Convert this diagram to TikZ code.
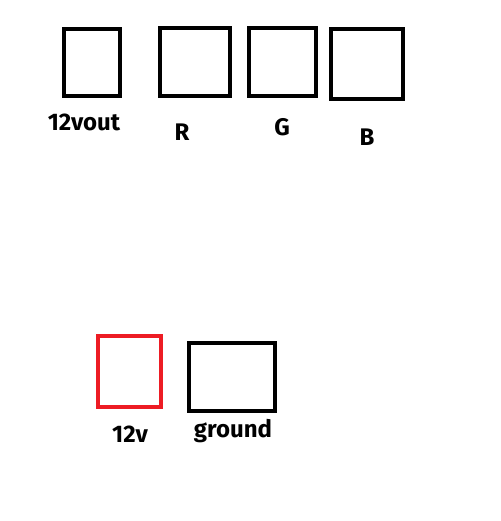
\documentclass[tikz,border=0pt]{standalone}
\usepackage{fontspec}
\setmainfont{Fira Sans}
\usetikzlibrary{positioning}
\definecolor{paintred}{HTML}{ED1C24}

\begin{document}
\begin{tikzpicture}[x=1pt, y=-1pt, -,
                    pin/.style = {draw, line width=4.5pt, inner sep=0pt},
                    lbl/.style = {font=\fontsize{24}{24}\selectfont\bfseries}]
\useasboundingbox (0,0) rectangle (500,521);
\node[pin, minimum width=56pt, minimum height=67pt] (vout) at (92,62.5) {};
\node[pin, minimum width=70pt, minimum height=68pt] (r) at (195,62) {};
\node[pin, minimum width=67pt, minimum height=68pt] (g) at (282.5,62) {};
\node[pin, minimum width=72pt, minimum height=70pt] (b) at (367,64) {};
\node[pin, draw=paintred, line width=4pt, minimum width=63pt, minimum height=71pt] (v12) at (129.5,371.5) {};
\node[pin, minimum width=86pt, minimum height=68pt] (gnd) at (232,377) {};
\node[lbl] (voutlabel) at (84,122) {12vout};
\node[lbl] (rlabel) at (182,132) {R};
\node[lbl] (glabel) at (282,127) {G};
\node[lbl] (blabel) at (367,137) {B};
\node[lbl] (v12label) at (130,434) {12v};
\node[lbl] (gndlabel) at (233,431) {ground};
\end{tikzpicture}
\end{document}
